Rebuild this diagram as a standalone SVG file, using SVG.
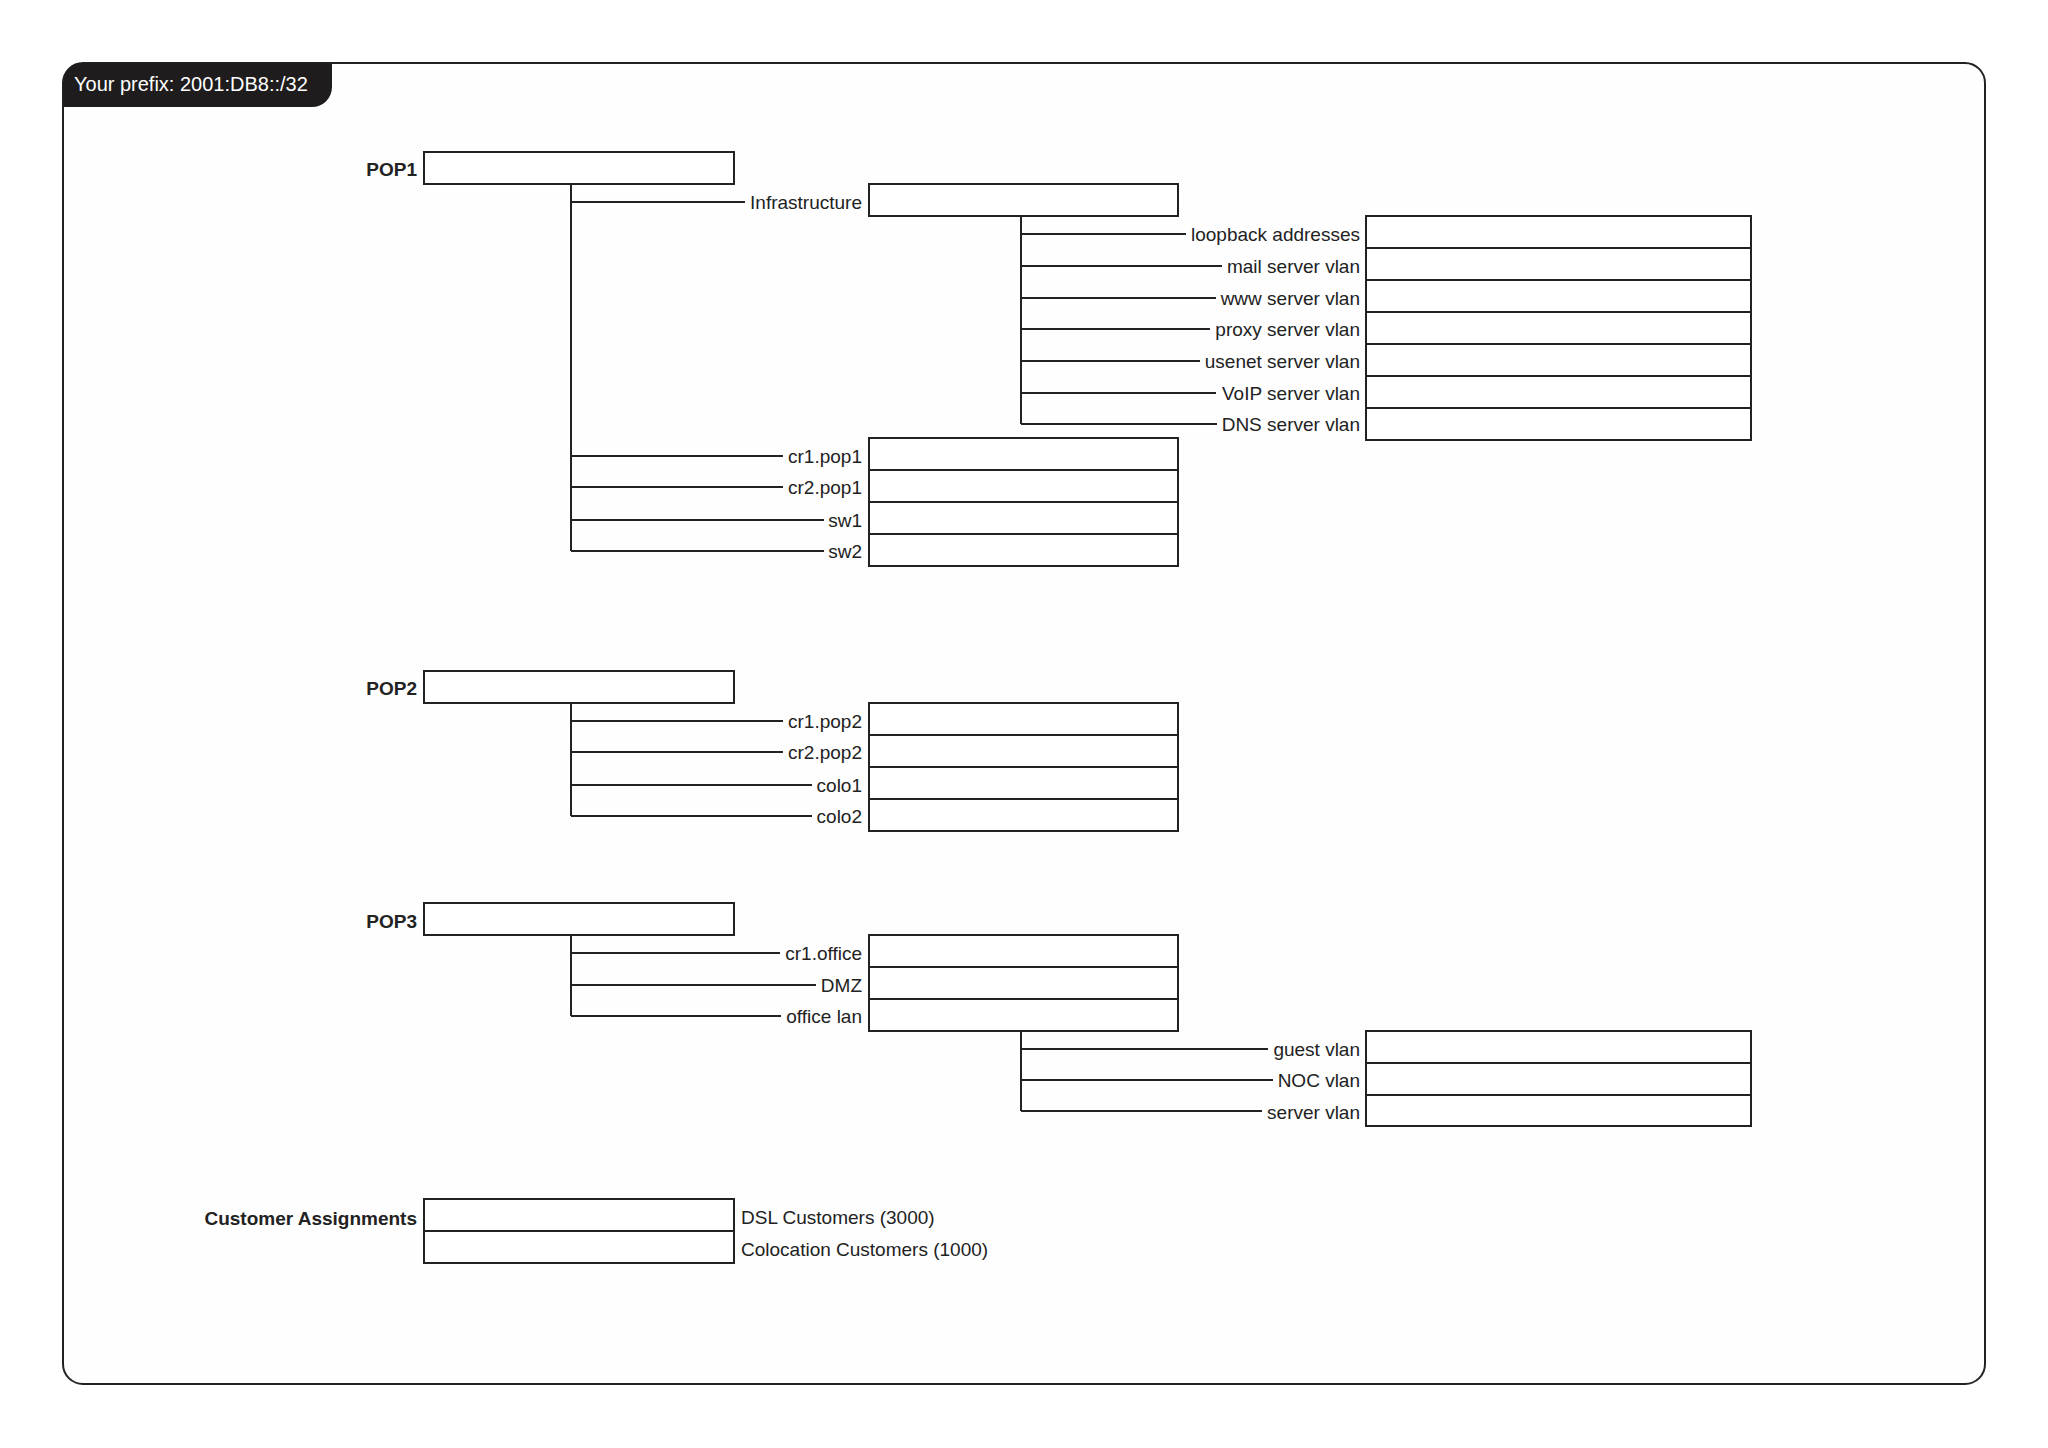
<svg xmlns="http://www.w3.org/2000/svg" width="2048" height="1448" viewBox="0 0 2048 1448">
<style>
.b{fill:#fff;stroke:#222;stroke-width:2}
.c line{stroke:#222;stroke-width:2}
text{font-family:"Liberation Sans",Arial,sans-serif;font-size:19px;fill:#222}
.l{text-anchor:end}
.h{font-weight:bold;text-anchor:end}
</style>
<rect width="2048" height="1448" fill="#fff"/>
<rect x="63" y="63" width="1922" height="1321" rx="20" fill="#fefefe" stroke="#222" stroke-width="2"/>
<path d="M63,107 V83 A20,20 0 0 1 83,63 H332 V87 A20,20 0 0 1 312,107 Z" fill="#1e1c1c"/>
<text x="74" y="91" style="fill:#fff;font-size:20px">Your prefix: 2001:DB8::/32</text>
<g class="c">
<line x1="571" y1="184" x2="571" y2="551"/>
<line x1="571" y1="202" x2="745" y2="202"/>
<line x1="571" y1="456" x2="783" y2="456"/><line x1="571" y1="487" x2="783" y2="487"/>
<line x1="571" y1="520" x2="824" y2="520"/><line x1="571" y1="551" x2="824" y2="551"/>
<line x1="1021" y1="216" x2="1021" y2="424"/>
<line x1="1021" y1="234" x2="1186" y2="234"/><line x1="1021" y1="266" x2="1222" y2="266"/>
<line x1="1021" y1="298" x2="1216" y2="298"/><line x1="1021" y1="329" x2="1210" y2="329"/>
<line x1="1021" y1="361" x2="1200" y2="361"/><line x1="1021" y1="393" x2="1216" y2="393"/>
<line x1="1021" y1="424" x2="1217" y2="424"/>
<line x1="571" y1="703" x2="571" y2="816"/>
<line x1="571" y1="721" x2="783" y2="721"/><line x1="571" y1="752" x2="783" y2="752"/>
<line x1="571" y1="785" x2="812" y2="785"/><line x1="571" y1="816" x2="812" y2="816"/>
<line x1="571" y1="935" x2="571" y2="1016"/>
<line x1="571" y1="953" x2="780" y2="953"/><line x1="571" y1="985" x2="816" y2="985"/>
<line x1="571" y1="1016" x2="781" y2="1016"/>
<line x1="1021" y1="1030" x2="1021" y2="1111"/>
<line x1="1021" y1="1049" x2="1268" y2="1049"/><line x1="1021" y1="1080" x2="1273" y2="1080"/>
<line x1="1021" y1="1111" x2="1262" y2="1111"/>
</g>
<g id="pop1"><rect class="b" x="424" y="152" width="310" height="32"/><text class="h" x="417" y="176">POP1</text></g>
<g id="infra"><rect class="b" x="869" y="184" width="309" height="32"/><text class="l" x="862" y="209">Infrastructure</text></g>
<g id="infra-sub">
<rect class="b" x="1366" y="216" width="385" height="32"/><text class="l" x="1360" y="241">loopback addresses</text>
<rect class="b" x="1366" y="248" width="385" height="32"/><text class="l" x="1360" y="273">mail server vlan</text>
<rect class="b" x="1366" y="280" width="385" height="32"/><text class="l" x="1360" y="305">www server vlan</text>
<rect class="b" x="1366" y="312" width="385" height="32"/><text class="l" x="1360" y="336">proxy server vlan</text>
<rect class="b" x="1366" y="344" width="385" height="32"/><text class="l" x="1360" y="368">usenet server vlan</text>
<rect class="b" x="1366" y="376" width="385" height="32"/><text class="l" x="1360" y="400">VoIP server vlan</text>
<rect class="b" x="1366" y="408" width="385" height="32"/><text class="l" x="1360" y="431">DNS server vlan</text>
</g>
<g id="pop1-dev">
<rect class="b" x="869" y="438" width="309" height="32"/><text class="l" x="862" y="463">cr1.pop1</text>
<rect class="b" x="869" y="470" width="309" height="32"/><text class="l" x="862" y="494">cr2.pop1</text>
<rect class="b" x="869" y="502" width="309" height="32"/><text class="l" x="862" y="527">sw1</text>
<rect class="b" x="869" y="534" width="309" height="32"/><text class="l" x="862" y="558">sw2</text>
</g>
<g id="pop2"><rect class="b" x="424" y="671" width="310" height="32"/><text class="h" x="417" y="695">POP2</text></g>
<g id="pop2-dev">
<rect class="b" x="869" y="703" width="309" height="32"/><text class="l" x="862" y="728">cr1.pop2</text>
<rect class="b" x="869" y="735" width="309" height="32"/><text class="l" x="862" y="759">cr2.pop2</text>
<rect class="b" x="869" y="767" width="309" height="32"/><text class="l" x="862" y="792">colo1</text>
<rect class="b" x="869" y="799" width="309" height="32"/><text class="l" x="862" y="823">colo2</text>
</g>
<g id="pop3"><rect class="b" x="424" y="903" width="310" height="32"/><text class="h" x="417" y="928">POP3</text></g>
<g id="pop3-dev">
<rect class="b" x="869" y="935" width="309" height="32"/><text class="l" x="862" y="960">cr1.office</text>
<rect class="b" x="869" y="967" width="309" height="32"/><text class="l" x="862" y="992">DMZ</text>
<rect class="b" x="869" y="999" width="309" height="32"/><text class="l" x="862" y="1023">office lan</text>
</g>
<g id="office-sub">
<rect class="b" x="1366" y="1031" width="385" height="32"/><text class="l" x="1360" y="1056">guest vlan</text>
<rect class="b" x="1366" y="1063" width="385" height="32"/><text class="l" x="1360" y="1087">NOC vlan</text>
<rect class="b" x="1366" y="1095" width="385" height="31"/><text class="l" x="1360" y="1119">server vlan</text>
</g>
<g id="customers">
<rect class="b" x="424" y="1199" width="310" height="32"/><rect class="b" x="424" y="1231" width="310" height="32"/>
<text class="h" x="417" y="1225">Customer Assignments</text>
<text x="741" y="1224">DSL Customers (3000)</text>
<text x="741" y="1256">Colocation Customers (1000)</text>
</g>
</svg>
